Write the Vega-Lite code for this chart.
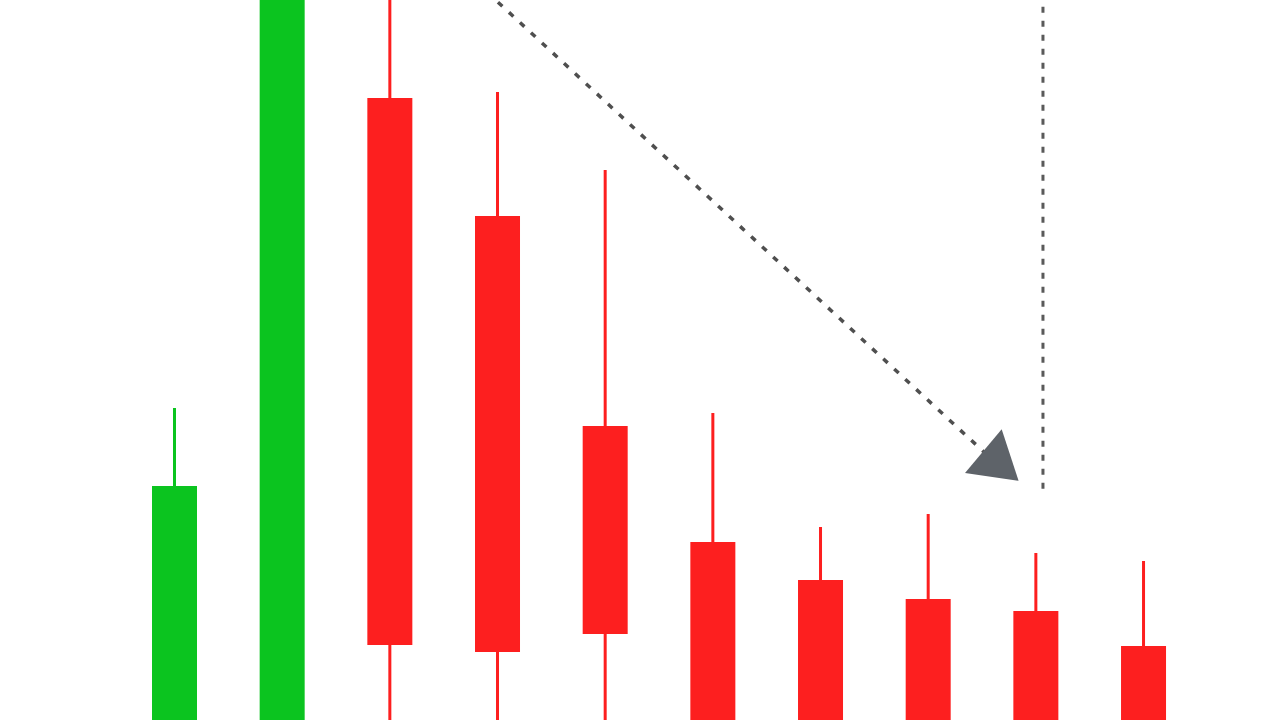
{
  "$schema": "https://vega.github.io/schema/vega-lite/v6.json",
  "width": 1280,
  "height": 720,
  "autosize": {"type": "none"},
  "padding": 0,
  "background": "#ffffff",
  "config": {"view": {"stroke": null}},
  "datasets": {
    "candles": [
      {"day": 1, "dir": "up", "open": -10, "close": 32.5, "high": 43.33, "low": -15},
      {"day": 2, "dir": "up", "open": -10, "close": 110, "high": 115, "low": -15},
      {"day": 3, "dir": "down", "open": 86.39, "close": 10.42, "high": 115, "low": -15},
      {"day": 4, "dir": "down", "open": 70.0, "close": 9.44, "high": 87.22, "low": -15},
      {"day": 5, "dir": "down", "open": 40.83, "close": 11.94, "high": 76.39, "low": -15},
      {"day": 6, "dir": "down", "open": 24.72, "close": -10, "high": 42.64, "low": -15},
      {"day": 7, "dir": "down", "open": 19.44, "close": -10, "high": 26.81, "low": -15},
      {"day": 8, "dir": "down", "open": 16.81, "close": -10, "high": 28.61, "low": -15},
      {"day": 9, "dir": "down", "open": 15.14, "close": -10, "high": 23.19, "low": -15},
      {"day": 10, "dir": "down", "open": 10.28, "close": -10, "high": 22.08, "low": -15}
    ],
    "trend": [
      {"day": 3.902, "price": 101.11},
      {"day": 8.528, "price": 37.08}
    ],
    "marker": [
      {"day": 9.066, "top": 101, "bottom": 31.67}
    ],
    "arrowhead": [
      {"day": 8.676, "price": 35.28}
    ]
  },
  "layer": [
    {
      "data": {"name": "candles"},
      "mark": {"type": "rule", "strokeWidth": 3, "clip": true},
      "encoding": {
        "x": {"field": "day", "type": "quantitative", "scale": {"domain": [-0.6207, 11.2675], "nice": false, "zero": false, "padding": 0}, "axis": null},
        "y": {"field": "low", "type": "quantitative", "scale": {"domain": [0, 100], "nice": false, "zero": false, "padding": 0}, "axis": null},
        "y2": {"field": "high"},
        "color": {"field": "dir", "type": "nominal", "scale": {"domain": ["up", "down"], "range": ["#0bc41f", "#fd1f1f"]}, "legend": null}
      }
    },
    {
      "data": {"name": "candles"},
      "mark": {"type": "bar", "size": 45, "clip": true},
      "encoding": {
        "x": {"field": "day", "type": "quantitative"},
        "y": {"field": "open", "type": "quantitative"},
        "y2": {"field": "close"},
        "color": {"field": "dir", "type": "nominal", "legend": null}
      }
    },
    {
      "data": {"name": "trend"},
      "mark": {"type": "line", "color": "#4f4f4f", "strokeWidth": 3.5, "strokeDash": [6, 9], "clip": true},
      "encoding": {
        "x": {"field": "day", "type": "quantitative"},
        "y": {"field": "price", "type": "quantitative"}
      }
    },
    {
      "data": {"name": "marker"},
      "mark": {"type": "rule", "color": "#5a5a5a", "strokeWidth": 3, "strokeDash": [6, 8], "clip": true},
      "encoding": {
        "x": {"field": "day", "type": "quantitative"},
        "y": {"field": "top", "type": "quantitative"},
        "y2": {"field": "bottom"}
      }
    },
    {
      "data": {"name": "arrowhead"},
      "mark": {"type": "point", "shape": "M1,0L-1,-1.24L-1,1.24Z", "size": 2116, "angle": 40, "filled": true, "opacity": 1, "color": "#5e6369", "clip": true},
      "encoding": {
        "x": {"field": "day", "type": "quantitative"},
        "y": {"field": "price", "type": "quantitative"}
      }
    }
  ]
}
